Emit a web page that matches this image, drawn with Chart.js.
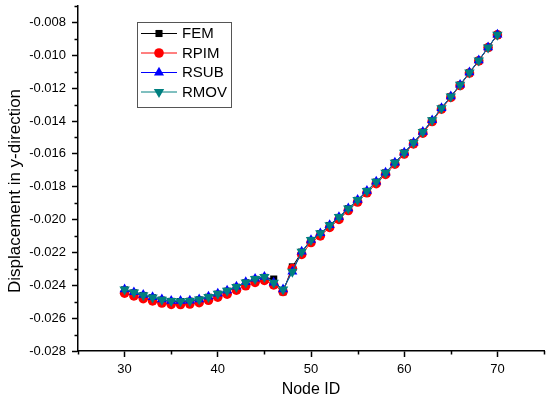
<!DOCTYPE html>
<html>
<head>
<meta charset="utf-8">
<script src="https://cdn.jsdelivr.net/npm/chart.js@4/dist/chart.umd.min.js"></script>
<style>
  html, body { margin: 0; padding: 0; background: #fff; }
</style>
</head>
<body>
<canvas id="chart" width="550" height="403"></canvas>
<script>
// node numbers on the x axis
const nodeIds = [30, 31, 32, 33, 34, 35, 36, 37, 38, 39, 40, 41, 42, 43, 44, 45, 46, 47, 48, 49,
                 50, 51, 52, 53, 54, 55, 56, 57, 58, 59, 60, 61, 62, 63, 64, 65, 66, 67, 68, 69, 70];

// displacement in y-direction
const femValues = [-0.02428, -0.02446, -0.02462, -0.02476, -0.02490, -0.02498, -0.02499, -0.02497, -0.02489, -0.02473,
                   -0.02454, -0.02436, -0.02412, -0.02385, -0.02364, -0.02352, -0.02362, -0.02440, -0.02288, -0.02198,
                   -0.02127, -0.02086, -0.02036, -0.01987, -0.01934, -0.01883, -0.01828, -0.01772, -0.01716, -0.01655,
                   -0.01594, -0.01533, -0.01468, -0.01397, -0.01323, -0.01252, -0.01181, -0.01106, -0.01033, -0.00953, -0.00876];
const rpimValues = [-0.02448, -0.02465, -0.02481, -0.02495, -0.02508, -0.02516, -0.02517, -0.02514, -0.02506, -0.02491,
                    -0.02472, -0.02454, -0.02430, -0.02403, -0.02382, -0.02370, -0.02398, -0.02438, -0.02298, -0.02212,
                    -0.02140, -0.02099, -0.02048, -0.01999, -0.01945, -0.01893, -0.01837, -0.01781, -0.01725, -0.01663,
                    -0.01601, -0.01539, -0.01474, -0.01403, -0.01328, -0.01256, -0.01184, -0.01108, -0.01034, -0.00953, -0.00876];
const rsubValues = [-0.02424, -0.02442, -0.02458, -0.02472, -0.02486, -0.02494, -0.02495, -0.02493, -0.02485, -0.02469,
                    -0.02450, -0.02432, -0.02408, -0.02381, -0.02360, -0.02348, -0.02383, -0.02424, -0.02316, -0.02195,
                    -0.02124, -0.02083, -0.02033, -0.01984, -0.01931, -0.01880, -0.01825, -0.01769, -0.01714, -0.01653,
                    -0.01592, -0.01531, -0.01466, -0.01395, -0.01321, -0.01250, -0.01179, -0.01104, -0.01031, -0.00951, -0.00874];
const rmovValues = [-0.02426, -0.02444, -0.02460, -0.02474, -0.02488, -0.02496, -0.02497, -0.02495, -0.02487, -0.02471,
                    -0.02452, -0.02434, -0.02410, -0.02383, -0.02362, -0.02350, -0.02385, -0.02426, -0.02318, -0.02196,
                    -0.02125, -0.02084, -0.02034, -0.01985, -0.01932, -0.01881, -0.01826, -0.01770, -0.01715, -0.01654,
                    -0.01593, -0.01532, -0.01467, -0.01396, -0.01322, -0.01251, -0.01180, -0.01105, -0.01032, -0.00952, -0.00875];

// tick labels
const xTicks = [30, 40, 50, 60, 70];
const xMinorTicks = [25, 35, 45, 55, 65, 75];
const yTicks = [-0.028, -0.026, -0.024, -0.022, -0.020, -0.018, -0.016, -0.014, -0.012, -0.010, -0.008];
const yMinorTicks = [-0.027, -0.025, -0.023, -0.021, -0.019, -0.017, -0.015, -0.013, -0.011, -0.009, -0.007];

const FONT = "'Liberation Sans', Arial, sans-serif";

function toPoints(values) {
    return values.map((v, i) => ({ x: nodeIds[i], y: v }));
}

function series(label, values, color, style, radius, rotation, order) {
    return {
        label: label,
        data: toPoints(values),
        borderColor: color,
        backgroundColor: color,
        borderWidth: 1,
        pointStyle: style,
        pointRadius: radius,
        pointRotation: rotation,
        pointBackgroundColor: color,
        pointBorderColor: color,
        pointBorderWidth: 0,
        tension: 0,
        order: order
    };
}

// 短い副目盛り（外向き）
const minorTicks = {
    id: 'minorTicks',
    afterDraw(chart) {
        const ctx = chart.ctx;
        const xs = chart.scales.x;
        const ys = chart.scales.y;
        const area = chart.chartArea;
        ctx.save();
        ctx.strokeStyle = '#000';
        ctx.lineWidth = 1.5;
        ctx.beginPath();
        xMinorTicks.forEach(v => {
            const px = Math.round(xs.getPixelForValue(v)) + 0.5;
            ctx.moveTo(px, area.bottom);
            ctx.lineTo(px, area.bottom + 3.5);
        });
        yMinorTicks.forEach(v => {
            const py = Math.round(ys.getPixelForValue(v)) + 0.5;
            ctx.moveTo(area.left - 3.5, py);
            ctx.lineTo(area.left, py);
        });
        ctx.stroke();
        ctx.restore();
    }
};

// 縦軸タイトル（元図では軸の中心より少し下にある）
const yTitle = {
    id: 'yTitle',
    afterDraw(chart) {
        const ctx = chart.ctx;
        ctx.save();
        ctx.translate(15, 191);
        ctx.rotate(-Math.PI / 2);
        ctx.font = '17px ' + FONT;
        ctx.fillStyle = '#000';
        ctx.textAlign = 'center';
        ctx.textBaseline = 'middle';
        ctx.fillText('Displacement in y-direction', 0, 0);
        ctx.restore();
    }
};

// Origin風の凡例（線＋マーカー）
const legendBox = {
    id: 'legendBox',
    afterDraw(chart) {
        const ctx = chart.ctx;
        ctx.save();
        ctx.fillStyle = '#fff';
        ctx.fillRect(137.5, 22.5, 94, 85);
        ctx.strokeStyle = '#555';
        ctx.lineWidth = 1;
        ctx.strokeRect(137.5, 22.5, 94, 85);
        ctx.font = '15px ' + FONT;
        ctx.textBaseline = 'middle';
        chart.data.datasets.forEach((ds, i) => {
            const y = 33.5 + i * 19.5;
            ctx.strokeStyle = ds.borderColor;
            ctx.lineWidth = 1;
            ctx.beginPath();
            ctx.moveTo(141, y);
            ctx.lineTo(177, y);
            ctx.stroke();
            ctx.fillStyle = ds.pointBackgroundColor;
            Chart.helpers.drawPoint(ctx, {
                pointStyle: ds.pointStyle,
                radius: ds.pointRadius,
                rotation: ds.pointRotation,
                borderWidth: 0
            }, 159, y);
            ctx.fillStyle = '#000';
            ctx.fillText(ds.label, 182, y + 0.5);
        });
        ctx.restore();
    }
};

new Chart(document.getElementById('chart'), {
    type: 'line',
    data: {
        datasets: [
            series('FEM', femValues, '#000000', 'rect', 5, 0, 4),
            series('RPIM', rpimValues, '#ff0000', 'circle', 4.8, 0, 3),
            series('RSUB', rsubValues, '#0000ff', 'triangle', 5.8, 0, 2),
            series('RMOV', rmovValues, '#008080', 'triangle', 6, 180, 1)
        ]
    },
    options: {
        responsive: false,
        animation: false,
        devicePixelRatio: 1,
        layout: { padding: { top: 6, right: 6, left: 0, bottom: 0 } },
        plugins: {
            legend: { display: false },
            tooltip: { enabled: false }
        },
        scales: {
            x: {
                type: 'linear',
                min: 25,
                max: 75,
                afterBuildTicks: scale => { scale.ticks = xTicks.map(v => ({ value: v })); },
                afterFit: scale => {
                    scale.height = 52;
                    scale.paddingLeft = 0;
                    scale.paddingRight = 0;
                },
                border: { display: true, color: '#000', width: 1.5 },
                grid: { drawOnChartArea: false, drawTicks: true, tickLength: 6, tickColor: '#000', tickWidth: 1.5 },
                ticks: { color: '#000', font: { family: FONT, size: 13 }, padding: 5, maxRotation: 0 },
                title: { display: true, text: 'Node ID', color: '#000', font: { family: FONT, size: 16 }, padding: { top: 4, bottom: 4 } }
            },
            y: {
                type: 'linear',
                min: -0.028,
                max: -0.007,
                afterBuildTicks: scale => { scale.ticks = yTicks.map(v => ({ value: v })); },
                afterFit: scale => {
                    scale.width = 78;
                    scale.paddingTop = 0;
                    scale.paddingBottom = 0;
                },
                border: { display: true, color: '#000', width: 1.5 },
                grid: { drawOnChartArea: false, drawTicks: true, tickLength: 6, tickColor: '#000', tickWidth: 1.5 },
                ticks: {
                    color: '#000',
                    font: { family: FONT, size: 13 },
                    padding: 6,
                    callback: v => v.toFixed(3)
                },
                title: { display: false }
            }
        }
    },
    plugins: [minorTicks, yTitle, legendBox]
});
</script>
</body>
</html>
